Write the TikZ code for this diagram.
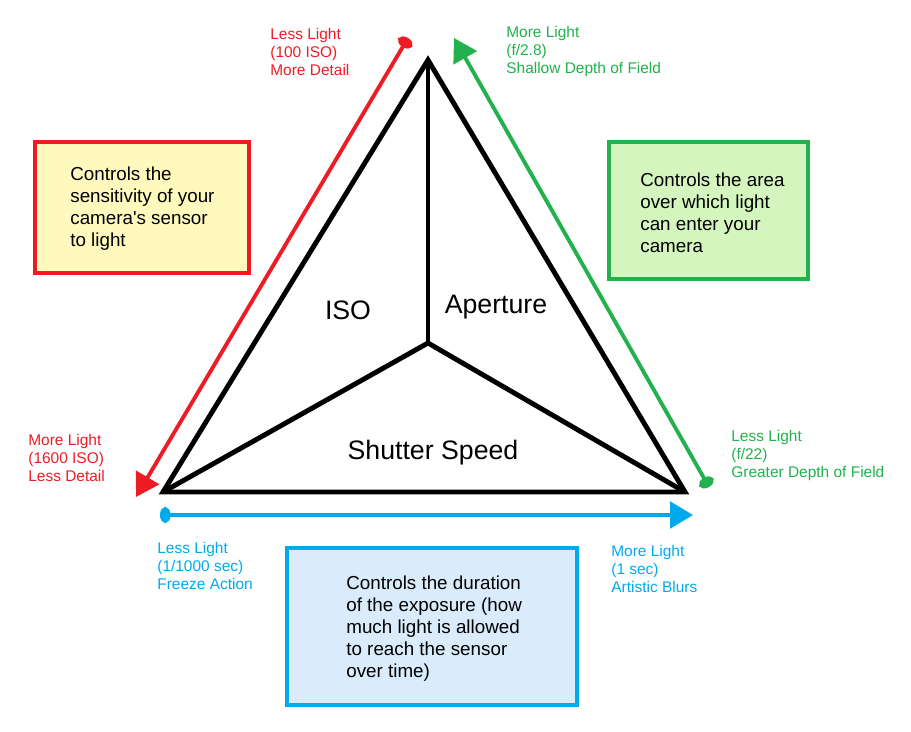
\documentclass[tikz,border=0pt]{standalone}
\usepackage{fontspec}
\setmainfont{Liberation Sans}
\usetikzlibrary{arrows.meta, positioning}
\definecolor{isored}{RGB}{237,28,36}
\definecolor{apgreen}{RGB}{34,177,76}
\definecolor{shblue}{RGB}{0,170,236}
\definecolor{isofill}{RGB}{255,249,190}
\definecolor{apfill}{RGB}{212,246,190}
\definecolor{shfill}{RGB}{218,236,252}
\tikzset{
    infobox/.style={
        anchor=north west, inner sep=0pt, align=left,
        font=\fontsize{10.7}{12.5}\selectfont
    },
    lightlabel/.style={
        anchor=north west, inner sep=0pt, align=left,
        font=\fontsize{8.8}{10.2}\selectfont
    },
    part/.style={font=\fontsize{15.2}{18}\selectfont, inner sep=0pt},
    edge/.style={line width=2.8pt, line join=miter, line cap=butt},
    frame/.style={line width=2.8pt},
    scale arrow/.style={line width=2.2pt,
        {Ellipse[length=6pt,width=9pt]}-{Triangle[length=13pt,width=15pt]}}
}
\begin{document}
\begin{tikzpicture}[x=0.02cm, y=-0.02cm]
    \useasboundingbox (0,0) rectangle (911,732);

    % the triangle
    \coordinate (top) at (428,60);
    \coordinate (bl) at (163,492);
    \coordinate (br) at (685,492);
    \coordinate (ctr) at (428,343);
    \draw[edge] (top) -- (bl) -- (br) -- cycle;
    \draw[edge] (ctr) -- (top);
    \draw[edge] (ctr) -- (bl);
    \draw[edge] (ctr) -- (br);

    \node[part] (iso) at (348,310) {ISO};
    \node[part] (aperture) at (496,307) {Aperture};
    \node[part] (shutter) at (433,453) {Shutter Speed};

    % scales along the sides
    \coordinate (isohi) at (408,38);
    \coordinate (isolo) at (136,497);
    \coordinate (aphi) at (454,38);
    \coordinate (aplo) at (709,487);
    \coordinate (shlo) at (160,515);
    \coordinate (shhi) at (693,515);
    \draw[scale arrow, isored] (isohi) -- (isolo);
    \draw[scale arrow, apgreen] (aplo) -- (aphi);
    \draw[scale arrow, shblue] (shlo) -- (shhi);

    \node[lightlabel, text=isored] (isotop) at (270,28) {Less Light\\(100 ISO)\\More Detail};
    \node[lightlabel, text=isored] (isobot) at (28,434) {More Light\\(1600 ISO)\\Less Detail};
    \node[lightlabel, text=apgreen] (aptop) at (506,26) {More Light\\(f/2.8)\\Shallow Depth of Field};
    \node[lightlabel, text=apgreen] (apbot) at (731,430) {Less Light\\(f/22)\\Greater Depth of Field};
    \node[lightlabel, text=shblue] (shleft) at (157,542) {Less Light\\(1/1000 sec)\\Freeze Action};
    \node[lightlabel, text=shblue] (shright) at (611,545) {More Light\\(1 sec)\\Artistic Blurs};

    % explanation boxes
    \draw[frame, isored, fill=isofill] (35,142) rectangle (249,273);
    \draw[frame, apgreen, fill=apfill] (609,142) rectangle (808,279);
    \draw[frame, shblue, fill=shfill] (287,548) rectangle (577,705);
    \node[infobox] (isotext) at (70,167)
        {Controls the\\sensitivity of your\\camera\textquotesingle s sensor\\to light};
    \node[infobox] (aptext) at (640,173)
        {Controls the area\\over which light\\can enter your\\camera};
    \node[infobox] (shtext) at (346,576)
        {Controls the duration\\of the exposure (how\\much light is allowed\\to reach the sensor\\over time)};
\end{tikzpicture}
\end{document}
